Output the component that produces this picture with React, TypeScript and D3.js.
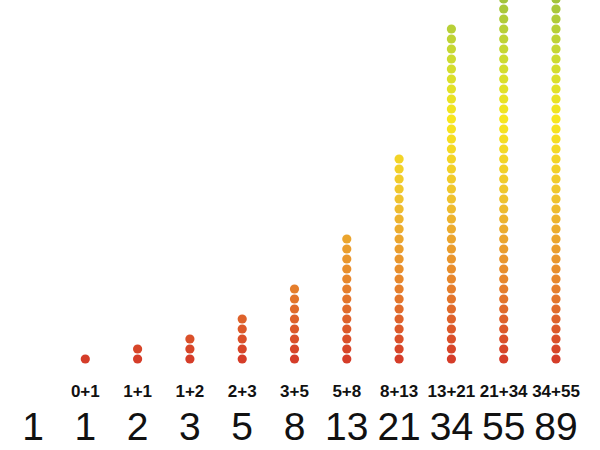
import React from "react";
import * as d3 from "d3";

const fib = [1, 1, 2, 3, 5, 8, 13, 21, 34, 55, 89];
const sumLabels = ["", "0+1", "1+1", "1+2", "2+3", "3+5", "5+8", "8+13", "13+21", "21+34", "34+55"];
const colorStops = [0, 8, 16, 24, 30, 36];
const colorValues = ["#d53d29", "#e7872c", "#efc22f", "#f7e61f", "#cddb31", "#a3c43c"];

export default function App() {
  const W = 600, H = 450;
  const x = d3.scaleLinear().domain([0, 10]).range([33, 556]);
  const y = d3.scaleLinear().domain([0, 35]).range([359, 9]);
  const color = d3
    .scaleLinear<string>()
    .domain(colorStops)
    .range(colorValues)
    .interpolate(d3.interpolateRgb)
    .clamp(true);

  const dots: { key: string; cx: number; cy: number; fill: string }[] = [];
  fib.forEach((v, i) => {
    if (i === 0) return;
    for (let j = 0; j < v; j++) {
      const cy = y(j);
      if (cy < -10) break;
      dots.push({ key: `${i}-${j}`, cx: x(i), cy, fill: color(j) });
    }
  });

  return (
    <svg
      width={W}
      height={H}
      style={{ position: "absolute", left: 0, top: 0, background: "#fff" }}
      fontFamily="'Liberation Sans', Arial, Helvetica, sans-serif"
    >
      <rect width={W} height={H} fill="#fff" />
      {dots.map((d) => (
        <circle key={d.key} cx={d.cx} cy={d.cy} r={4.6} fill={d.fill} />
      ))}
      {sumLabels.map((s, i) =>
        s ? (
          <text key={"s" + i} x={x(i)} y={397} textAnchor="middle" fontSize={17} fontWeight="bold" fill="#111">
            {s}
          </text>
        ) : null
      )}
      {fib.map((v, i) => (
        <text key={"f" + i} x={x(i)} y={440} textAnchor="middle" fontSize={39} fill="#111">
          {v}
        </text>
      ))}
    </svg>
  );
}
